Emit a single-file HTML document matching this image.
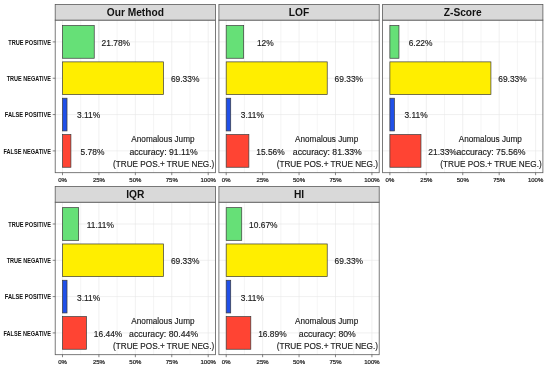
<!DOCTYPE html><html><head><meta charset="utf-8"><title>chart</title><style>html,body{margin:0;padding:0;background:#fff}svg{display:block}text{font-family:"Liberation Sans",sans-serif}</style></head><body>
<svg width="550" height="374" viewBox="0 0 550 374">
<rect width="550" height="374" fill="#fff"/>
<g>
<rect x="55.20" y="20.10" width="160.30" height="152.60" fill="#fff"/>
<line x1="80.70" x2="80.70" y1="20.10" y2="172.70" stroke="#EBEBEB" stroke-width="0.5"/>
<line x1="117.13" x2="117.13" y1="20.10" y2="172.70" stroke="#EBEBEB" stroke-width="0.5"/>
<line x1="153.57" x2="153.57" y1="20.10" y2="172.70" stroke="#EBEBEB" stroke-width="0.5"/>
<line x1="190.00" x2="190.00" y1="20.10" y2="172.70" stroke="#EBEBEB" stroke-width="0.5"/>
<line x1="62.49" x2="62.49" y1="20.10" y2="172.70" stroke="#E6E6E6" stroke-width="0.6"/>
<line x1="98.92" x2="98.92" y1="20.10" y2="172.70" stroke="#E6E6E6" stroke-width="0.6"/>
<line x1="135.35" x2="135.35" y1="20.10" y2="172.70" stroke="#E6E6E6" stroke-width="0.6"/>
<line x1="171.78" x2="171.78" y1="20.10" y2="172.70" stroke="#E6E6E6" stroke-width="0.6"/>
<line x1="208.21" x2="208.21" y1="20.10" y2="172.70" stroke="#E6E6E6" stroke-width="0.6"/>
<line x1="55.20" x2="215.50" y1="41.90" y2="41.90" stroke="#E6E6E6" stroke-width="0.6"/>
<line x1="55.20" x2="215.50" y1="78.23" y2="78.23" stroke="#E6E6E6" stroke-width="0.6"/>
<line x1="55.20" x2="215.50" y1="114.57" y2="114.57" stroke="#E6E6E6" stroke-width="0.6"/>
<line x1="55.20" x2="215.50" y1="150.90" y2="150.90" stroke="#E6E6E6" stroke-width="0.6"/>
<rect x="62.49" y="25.55" width="31.74" height="32.70" fill="#66E077" stroke="#3a3a3a" stroke-width="0.7"/>
<text transform="translate(115.83 45.80) scale(0.944 1)" font-size="8.9" text-anchor="middle" fill="#1a1a1a" stroke="#1a1a1a" stroke-width="0.15">21.78%</text>
<rect x="62.49" y="61.88" width="101.03" height="32.70" fill="#FFEE00" stroke="#3a3a3a" stroke-width="0.7"/>
<text transform="translate(185.12 82.13) scale(0.944 1)" font-size="8.9" text-anchor="middle" fill="#1a1a1a" stroke="#1a1a1a" stroke-width="0.15">69.33%</text>
<rect x="62.49" y="98.22" width="4.53" height="32.70" fill="#2050E8" stroke="#3a3a3a" stroke-width="0.7"/>
<text transform="translate(88.62 118.47) scale(0.944 1)" font-size="8.9" text-anchor="middle" fill="#1a1a1a" stroke="#1a1a1a" stroke-width="0.15">3.11%</text>
<rect x="62.49" y="134.55" width="8.42" height="32.70" fill="#FF4433" stroke="#3a3a3a" stroke-width="0.7"/>
<text transform="translate(92.51 154.80) scale(0.944 1)" font-size="8.9" text-anchor="middle" fill="#1a1a1a" stroke="#1a1a1a" stroke-width="0.15">5.78%</text>
<text transform="translate(162.92 141.90) scale(0.930 1)" font-size="8.8" text-anchor="middle" fill="#1a1a1a" stroke="#1a1a1a" stroke-width="0.15">Anomalous Jump</text>
<text transform="translate(163.62 154.55) scale(0.988 1)" font-size="8.8" text-anchor="middle" fill="#1a1a1a" stroke="#1a1a1a" stroke-width="0.15">accuracy: 91.11%</text>
<text transform="translate(163.62 167.20) scale(0.934 1)" font-size="8.8" text-anchor="middle" fill="#1a1a1a" stroke="#1a1a1a" stroke-width="0.15">(TRUE POS.+ TRUE NEG.)</text>
<rect x="55.20" y="20.10" width="160.30" height="152.60" fill="none" stroke="#5a5a5a" stroke-width="0.8"/>
<rect x="55.20" y="4.40" width="160.30" height="15.70" fill="#D9D9D9" stroke="#5a5a5a" stroke-width="0.8"/>
<text x="135.35" y="16.30" font-size="10.2" font-weight="bold" text-anchor="middle" fill="#111">Our Method</text>
<line x1="62.49" x2="62.49" y1="172.70" y2="175.20" stroke="#333" stroke-width="0.6"/>
<text x="62.49" y="181.60" font-size="6" text-anchor="middle" fill="#222" stroke="#222" stroke-width="0.22">0%</text>
<line x1="98.92" x2="98.92" y1="172.70" y2="175.20" stroke="#333" stroke-width="0.6"/>
<text x="98.92" y="181.60" font-size="6" text-anchor="middle" fill="#222" stroke="#222" stroke-width="0.22">25%</text>
<line x1="135.35" x2="135.35" y1="172.70" y2="175.20" stroke="#333" stroke-width="0.6"/>
<text x="135.35" y="181.60" font-size="6" text-anchor="middle" fill="#222" stroke="#222" stroke-width="0.22">50%</text>
<line x1="171.78" x2="171.78" y1="172.70" y2="175.20" stroke="#333" stroke-width="0.6"/>
<text x="171.78" y="181.60" font-size="6" text-anchor="middle" fill="#222" stroke="#222" stroke-width="0.22">75%</text>
<line x1="208.21" x2="208.21" y1="172.70" y2="175.20" stroke="#333" stroke-width="0.6"/>
<text x="208.21" y="181.60" font-size="6" text-anchor="middle" fill="#222" stroke="#222" stroke-width="0.22">100%</text>
<line x1="52.70" x2="55.20" y1="41.90" y2="41.90" stroke="#333" stroke-width="0.6"/>
<text x="8.30" y="44.50" font-size="6.5" font-weight="bold" textLength="42.7" lengthAdjust="spacingAndGlyphs" fill="#111">TRUE POSITIVE</text>
<line x1="52.70" x2="55.20" y1="78.23" y2="78.23" stroke="#333" stroke-width="0.6"/>
<text x="6.70" y="80.83" font-size="6.5" font-weight="bold" textLength="44.3" lengthAdjust="spacingAndGlyphs" fill="#111">TRUE NEGATIVE</text>
<line x1="52.70" x2="55.20" y1="114.57" y2="114.57" stroke="#333" stroke-width="0.6"/>
<text x="4.80" y="117.17" font-size="6.5" font-weight="bold" textLength="46.2" lengthAdjust="spacingAndGlyphs" fill="#111">FALSE POSITIVE</text>
<line x1="52.70" x2="55.20" y1="150.90" y2="150.90" stroke="#333" stroke-width="0.6"/>
<text x="3.50" y="153.50" font-size="6.5" font-weight="bold" textLength="47.5" lengthAdjust="spacingAndGlyphs" fill="#111">FALSE NEGATIVE</text>
</g>
<g>
<rect x="218.90" y="20.10" width="160.30" height="152.60" fill="#fff"/>
<line x1="244.40" x2="244.40" y1="20.10" y2="172.70" stroke="#EBEBEB" stroke-width="0.5"/>
<line x1="280.83" x2="280.83" y1="20.10" y2="172.70" stroke="#EBEBEB" stroke-width="0.5"/>
<line x1="317.27" x2="317.27" y1="20.10" y2="172.70" stroke="#EBEBEB" stroke-width="0.5"/>
<line x1="353.70" x2="353.70" y1="20.10" y2="172.70" stroke="#EBEBEB" stroke-width="0.5"/>
<line x1="226.19" x2="226.19" y1="20.10" y2="172.70" stroke="#E6E6E6" stroke-width="0.6"/>
<line x1="262.62" x2="262.62" y1="20.10" y2="172.70" stroke="#E6E6E6" stroke-width="0.6"/>
<line x1="299.05" x2="299.05" y1="20.10" y2="172.70" stroke="#E6E6E6" stroke-width="0.6"/>
<line x1="335.48" x2="335.48" y1="20.10" y2="172.70" stroke="#E6E6E6" stroke-width="0.6"/>
<line x1="371.91" x2="371.91" y1="20.10" y2="172.70" stroke="#E6E6E6" stroke-width="0.6"/>
<line x1="218.90" x2="379.20" y1="41.90" y2="41.90" stroke="#E6E6E6" stroke-width="0.6"/>
<line x1="218.90" x2="379.20" y1="78.23" y2="78.23" stroke="#E6E6E6" stroke-width="0.6"/>
<line x1="218.90" x2="379.20" y1="114.57" y2="114.57" stroke="#E6E6E6" stroke-width="0.6"/>
<line x1="218.90" x2="379.20" y1="150.90" y2="150.90" stroke="#E6E6E6" stroke-width="0.6"/>
<rect x="226.19" y="25.55" width="17.49" height="32.70" fill="#66E077" stroke="#3a3a3a" stroke-width="0.7"/>
<text transform="translate(265.27 45.80) scale(0.944 1)" font-size="8.9" text-anchor="middle" fill="#1a1a1a" stroke="#1a1a1a" stroke-width="0.15">12%</text>
<rect x="226.19" y="61.88" width="101.03" height="32.70" fill="#FFEE00" stroke="#3a3a3a" stroke-width="0.7"/>
<text transform="translate(348.82 82.13) scale(0.944 1)" font-size="8.9" text-anchor="middle" fill="#1a1a1a" stroke="#1a1a1a" stroke-width="0.15">69.33%</text>
<rect x="226.19" y="98.22" width="4.53" height="32.70" fill="#2050E8" stroke="#3a3a3a" stroke-width="0.7"/>
<text transform="translate(252.32 118.47) scale(0.944 1)" font-size="8.9" text-anchor="middle" fill="#1a1a1a" stroke="#1a1a1a" stroke-width="0.15">3.11%</text>
<rect x="226.19" y="134.55" width="22.68" height="32.70" fill="#FF4433" stroke="#3a3a3a" stroke-width="0.7"/>
<text transform="translate(270.46 154.80) scale(0.944 1)" font-size="8.9" text-anchor="middle" fill="#1a1a1a" stroke="#1a1a1a" stroke-width="0.15">15.56%</text>
<text transform="translate(326.62 141.90) scale(0.930 1)" font-size="8.8" text-anchor="middle" fill="#1a1a1a" stroke="#1a1a1a" stroke-width="0.15">Anomalous Jump</text>
<text transform="translate(327.32 154.55) scale(0.988 1)" font-size="8.8" text-anchor="middle" fill="#1a1a1a" stroke="#1a1a1a" stroke-width="0.15">accuracy: 81.33%</text>
<text transform="translate(327.32 167.20) scale(0.934 1)" font-size="8.8" text-anchor="middle" fill="#1a1a1a" stroke="#1a1a1a" stroke-width="0.15">(TRUE POS.+ TRUE NEG.)</text>
<rect x="218.90" y="20.10" width="160.30" height="152.60" fill="none" stroke="#5a5a5a" stroke-width="0.8"/>
<rect x="218.90" y="4.40" width="160.30" height="15.70" fill="#D9D9D9" stroke="#5a5a5a" stroke-width="0.8"/>
<text x="299.05" y="16.30" font-size="10.2" font-weight="bold" text-anchor="middle" fill="#111">LOF</text>
<line x1="226.19" x2="226.19" y1="172.70" y2="175.20" stroke="#333" stroke-width="0.6"/>
<text x="226.19" y="181.60" font-size="6" text-anchor="middle" fill="#222" stroke="#222" stroke-width="0.22">0%</text>
<line x1="262.62" x2="262.62" y1="172.70" y2="175.20" stroke="#333" stroke-width="0.6"/>
<text x="262.62" y="181.60" font-size="6" text-anchor="middle" fill="#222" stroke="#222" stroke-width="0.22">25%</text>
<line x1="299.05" x2="299.05" y1="172.70" y2="175.20" stroke="#333" stroke-width="0.6"/>
<text x="299.05" y="181.60" font-size="6" text-anchor="middle" fill="#222" stroke="#222" stroke-width="0.22">50%</text>
<line x1="335.48" x2="335.48" y1="172.70" y2="175.20" stroke="#333" stroke-width="0.6"/>
<text x="335.48" y="181.60" font-size="6" text-anchor="middle" fill="#222" stroke="#222" stroke-width="0.22">75%</text>
<line x1="371.91" x2="371.91" y1="172.70" y2="175.20" stroke="#333" stroke-width="0.6"/>
<text x="371.91" y="181.60" font-size="6" text-anchor="middle" fill="#222" stroke="#222" stroke-width="0.22">100%</text>
</g>
<g>
<rect x="382.60" y="20.10" width="160.30" height="152.60" fill="#fff"/>
<line x1="408.10" x2="408.10" y1="20.10" y2="172.70" stroke="#EBEBEB" stroke-width="0.5"/>
<line x1="444.53" x2="444.53" y1="20.10" y2="172.70" stroke="#EBEBEB" stroke-width="0.5"/>
<line x1="480.97" x2="480.97" y1="20.10" y2="172.70" stroke="#EBEBEB" stroke-width="0.5"/>
<line x1="517.40" x2="517.40" y1="20.10" y2="172.70" stroke="#EBEBEB" stroke-width="0.5"/>
<line x1="389.89" x2="389.89" y1="20.10" y2="172.70" stroke="#E6E6E6" stroke-width="0.6"/>
<line x1="426.32" x2="426.32" y1="20.10" y2="172.70" stroke="#E6E6E6" stroke-width="0.6"/>
<line x1="462.75" x2="462.75" y1="20.10" y2="172.70" stroke="#E6E6E6" stroke-width="0.6"/>
<line x1="499.18" x2="499.18" y1="20.10" y2="172.70" stroke="#E6E6E6" stroke-width="0.6"/>
<line x1="535.61" x2="535.61" y1="20.10" y2="172.70" stroke="#E6E6E6" stroke-width="0.6"/>
<line x1="382.60" x2="542.90" y1="41.90" y2="41.90" stroke="#E6E6E6" stroke-width="0.6"/>
<line x1="382.60" x2="542.90" y1="78.23" y2="78.23" stroke="#E6E6E6" stroke-width="0.6"/>
<line x1="382.60" x2="542.90" y1="114.57" y2="114.57" stroke="#E6E6E6" stroke-width="0.6"/>
<line x1="382.60" x2="542.90" y1="150.90" y2="150.90" stroke="#E6E6E6" stroke-width="0.6"/>
<rect x="389.89" y="25.55" width="9.06" height="32.70" fill="#66E077" stroke="#3a3a3a" stroke-width="0.7"/>
<text transform="translate(420.55 45.80) scale(0.944 1)" font-size="8.9" text-anchor="middle" fill="#1a1a1a" stroke="#1a1a1a" stroke-width="0.15">6.22%</text>
<rect x="389.89" y="61.88" width="101.03" height="32.70" fill="#FFEE00" stroke="#3a3a3a" stroke-width="0.7"/>
<text transform="translate(512.52 82.13) scale(0.944 1)" font-size="8.9" text-anchor="middle" fill="#1a1a1a" stroke="#1a1a1a" stroke-width="0.15">69.33%</text>
<rect x="389.89" y="98.22" width="4.53" height="32.70" fill="#2050E8" stroke="#3a3a3a" stroke-width="0.7"/>
<text transform="translate(416.02 118.47) scale(0.944 1)" font-size="8.9" text-anchor="middle" fill="#1a1a1a" stroke="#1a1a1a" stroke-width="0.15">3.11%</text>
<rect x="389.89" y="134.55" width="31.08" height="32.70" fill="#FF4433" stroke="#3a3a3a" stroke-width="0.7"/>
<text transform="translate(442.57 154.80) scale(0.944 1)" font-size="8.9" text-anchor="middle" fill="#1a1a1a" stroke="#1a1a1a" stroke-width="0.15">21.33%</text>
<text transform="translate(490.32 141.90) scale(0.930 1)" font-size="8.8" text-anchor="middle" fill="#1a1a1a" stroke="#1a1a1a" stroke-width="0.15">Anomalous Jump</text>
<text transform="translate(491.02 154.55) scale(0.988 1)" font-size="8.8" text-anchor="middle" fill="#1a1a1a" stroke="#1a1a1a" stroke-width="0.15">accuracy: 75.56%</text>
<text transform="translate(491.02 167.20) scale(0.934 1)" font-size="8.8" text-anchor="middle" fill="#1a1a1a" stroke="#1a1a1a" stroke-width="0.15">(TRUE POS.+ TRUE NEG.)</text>
<rect x="382.60" y="20.10" width="160.30" height="152.60" fill="none" stroke="#5a5a5a" stroke-width="0.8"/>
<rect x="382.60" y="4.40" width="160.30" height="15.70" fill="#D9D9D9" stroke="#5a5a5a" stroke-width="0.8"/>
<text x="462.75" y="16.30" font-size="10.2" font-weight="bold" text-anchor="middle" fill="#111">Z-Score</text>
<line x1="389.89" x2="389.89" y1="172.70" y2="175.20" stroke="#333" stroke-width="0.6"/>
<text x="389.89" y="181.60" font-size="6" text-anchor="middle" fill="#222" stroke="#222" stroke-width="0.22">0%</text>
<line x1="426.32" x2="426.32" y1="172.70" y2="175.20" stroke="#333" stroke-width="0.6"/>
<text x="426.32" y="181.60" font-size="6" text-anchor="middle" fill="#222" stroke="#222" stroke-width="0.22">25%</text>
<line x1="462.75" x2="462.75" y1="172.70" y2="175.20" stroke="#333" stroke-width="0.6"/>
<text x="462.75" y="181.60" font-size="6" text-anchor="middle" fill="#222" stroke="#222" stroke-width="0.22">50%</text>
<line x1="499.18" x2="499.18" y1="172.70" y2="175.20" stroke="#333" stroke-width="0.6"/>
<text x="499.18" y="181.60" font-size="6" text-anchor="middle" fill="#222" stroke="#222" stroke-width="0.22">75%</text>
<line x1="535.61" x2="535.61" y1="172.70" y2="175.20" stroke="#333" stroke-width="0.6"/>
<text x="535.61" y="181.60" font-size="6" text-anchor="middle" fill="#222" stroke="#222" stroke-width="0.22">100%</text>
</g>
<g>
<rect x="55.20" y="202.20" width="160.30" height="152.50" fill="#fff"/>
<line x1="80.70" x2="80.70" y1="202.20" y2="354.70" stroke="#EBEBEB" stroke-width="0.5"/>
<line x1="117.13" x2="117.13" y1="202.20" y2="354.70" stroke="#EBEBEB" stroke-width="0.5"/>
<line x1="153.57" x2="153.57" y1="202.20" y2="354.70" stroke="#EBEBEB" stroke-width="0.5"/>
<line x1="190.00" x2="190.00" y1="202.20" y2="354.70" stroke="#EBEBEB" stroke-width="0.5"/>
<line x1="62.49" x2="62.49" y1="202.20" y2="354.70" stroke="#E6E6E6" stroke-width="0.6"/>
<line x1="98.92" x2="98.92" y1="202.20" y2="354.70" stroke="#E6E6E6" stroke-width="0.6"/>
<line x1="135.35" x2="135.35" y1="202.20" y2="354.70" stroke="#E6E6E6" stroke-width="0.6"/>
<line x1="171.78" x2="171.78" y1="202.20" y2="354.70" stroke="#E6E6E6" stroke-width="0.6"/>
<line x1="208.21" x2="208.21" y1="202.20" y2="354.70" stroke="#E6E6E6" stroke-width="0.6"/>
<line x1="55.20" x2="215.50" y1="223.99" y2="223.99" stroke="#E6E6E6" stroke-width="0.6"/>
<line x1="55.20" x2="215.50" y1="260.30" y2="260.30" stroke="#E6E6E6" stroke-width="0.6"/>
<line x1="55.20" x2="215.50" y1="296.60" y2="296.60" stroke="#E6E6E6" stroke-width="0.6"/>
<line x1="55.20" x2="215.50" y1="332.91" y2="332.91" stroke="#E6E6E6" stroke-width="0.6"/>
<rect x="62.49" y="207.65" width="16.19" height="32.68" fill="#66E077" stroke="#3a3a3a" stroke-width="0.7"/>
<text transform="translate(100.28 227.89) scale(0.944 1)" font-size="8.9" text-anchor="middle" fill="#1a1a1a" stroke="#1a1a1a" stroke-width="0.15">11.11%</text>
<rect x="62.49" y="243.96" width="101.03" height="32.68" fill="#FFEE00" stroke="#3a3a3a" stroke-width="0.7"/>
<text transform="translate(185.12 264.20) scale(0.944 1)" font-size="8.9" text-anchor="middle" fill="#1a1a1a" stroke="#1a1a1a" stroke-width="0.15">69.33%</text>
<rect x="62.49" y="280.27" width="4.53" height="32.68" fill="#2050E8" stroke="#3a3a3a" stroke-width="0.7"/>
<text transform="translate(88.62 300.50) scale(0.944 1)" font-size="8.9" text-anchor="middle" fill="#1a1a1a" stroke="#1a1a1a" stroke-width="0.15">3.11%</text>
<rect x="62.49" y="316.57" width="23.96" height="32.68" fill="#FF4433" stroke="#3a3a3a" stroke-width="0.7"/>
<text transform="translate(108.04 336.81) scale(0.944 1)" font-size="8.9" text-anchor="middle" fill="#1a1a1a" stroke="#1a1a1a" stroke-width="0.15">16.44%</text>
<text transform="translate(162.92 324.00) scale(0.930 1)" font-size="8.8" text-anchor="middle" fill="#1a1a1a" stroke="#1a1a1a" stroke-width="0.15">Anomalous Jump</text>
<text transform="translate(163.62 336.65) scale(0.988 1)" font-size="8.8" text-anchor="middle" fill="#1a1a1a" stroke="#1a1a1a" stroke-width="0.15">accuracy: 80.44%</text>
<text transform="translate(163.62 349.30) scale(0.934 1)" font-size="8.8" text-anchor="middle" fill="#1a1a1a" stroke="#1a1a1a" stroke-width="0.15">(TRUE POS.+ TRUE NEG.)</text>
<rect x="55.20" y="202.20" width="160.30" height="152.50" fill="none" stroke="#5a5a5a" stroke-width="0.8"/>
<rect x="55.20" y="186.40" width="160.30" height="15.80" fill="#D9D9D9" stroke="#5a5a5a" stroke-width="0.8"/>
<text x="135.35" y="198.30" font-size="10.2" font-weight="bold" text-anchor="middle" fill="#111">IQR</text>
<line x1="62.49" x2="62.49" y1="354.70" y2="357.20" stroke="#333" stroke-width="0.6"/>
<text x="62.49" y="363.60" font-size="6" text-anchor="middle" fill="#222" stroke="#222" stroke-width="0.22">0%</text>
<line x1="98.92" x2="98.92" y1="354.70" y2="357.20" stroke="#333" stroke-width="0.6"/>
<text x="98.92" y="363.60" font-size="6" text-anchor="middle" fill="#222" stroke="#222" stroke-width="0.22">25%</text>
<line x1="135.35" x2="135.35" y1="354.70" y2="357.20" stroke="#333" stroke-width="0.6"/>
<text x="135.35" y="363.60" font-size="6" text-anchor="middle" fill="#222" stroke="#222" stroke-width="0.22">50%</text>
<line x1="171.78" x2="171.78" y1="354.70" y2="357.20" stroke="#333" stroke-width="0.6"/>
<text x="171.78" y="363.60" font-size="6" text-anchor="middle" fill="#222" stroke="#222" stroke-width="0.22">75%</text>
<line x1="208.21" x2="208.21" y1="354.70" y2="357.20" stroke="#333" stroke-width="0.6"/>
<text x="208.21" y="363.60" font-size="6" text-anchor="middle" fill="#222" stroke="#222" stroke-width="0.22">100%</text>
<line x1="52.70" x2="55.20" y1="223.99" y2="223.99" stroke="#333" stroke-width="0.6"/>
<text x="8.30" y="226.59" font-size="6.5" font-weight="bold" textLength="42.7" lengthAdjust="spacingAndGlyphs" fill="#111">TRUE POSITIVE</text>
<line x1="52.70" x2="55.20" y1="260.30" y2="260.30" stroke="#333" stroke-width="0.6"/>
<text x="6.70" y="262.90" font-size="6.5" font-weight="bold" textLength="44.3" lengthAdjust="spacingAndGlyphs" fill="#111">TRUE NEGATIVE</text>
<line x1="52.70" x2="55.20" y1="296.60" y2="296.60" stroke="#333" stroke-width="0.6"/>
<text x="4.80" y="299.20" font-size="6.5" font-weight="bold" textLength="46.2" lengthAdjust="spacingAndGlyphs" fill="#111">FALSE POSITIVE</text>
<line x1="52.70" x2="55.20" y1="332.91" y2="332.91" stroke="#333" stroke-width="0.6"/>
<text x="3.50" y="335.51" font-size="6.5" font-weight="bold" textLength="47.5" lengthAdjust="spacingAndGlyphs" fill="#111">FALSE NEGATIVE</text>
</g>
<g>
<rect x="218.90" y="202.20" width="160.30" height="152.50" fill="#fff"/>
<line x1="244.40" x2="244.40" y1="202.20" y2="354.70" stroke="#EBEBEB" stroke-width="0.5"/>
<line x1="280.83" x2="280.83" y1="202.20" y2="354.70" stroke="#EBEBEB" stroke-width="0.5"/>
<line x1="317.27" x2="317.27" y1="202.20" y2="354.70" stroke="#EBEBEB" stroke-width="0.5"/>
<line x1="353.70" x2="353.70" y1="202.20" y2="354.70" stroke="#EBEBEB" stroke-width="0.5"/>
<line x1="226.19" x2="226.19" y1="202.20" y2="354.70" stroke="#E6E6E6" stroke-width="0.6"/>
<line x1="262.62" x2="262.62" y1="202.20" y2="354.70" stroke="#E6E6E6" stroke-width="0.6"/>
<line x1="299.05" x2="299.05" y1="202.20" y2="354.70" stroke="#E6E6E6" stroke-width="0.6"/>
<line x1="335.48" x2="335.48" y1="202.20" y2="354.70" stroke="#E6E6E6" stroke-width="0.6"/>
<line x1="371.91" x2="371.91" y1="202.20" y2="354.70" stroke="#E6E6E6" stroke-width="0.6"/>
<line x1="218.90" x2="379.20" y1="223.99" y2="223.99" stroke="#E6E6E6" stroke-width="0.6"/>
<line x1="218.90" x2="379.20" y1="260.30" y2="260.30" stroke="#E6E6E6" stroke-width="0.6"/>
<line x1="218.90" x2="379.20" y1="296.60" y2="296.60" stroke="#E6E6E6" stroke-width="0.6"/>
<line x1="218.90" x2="379.20" y1="332.91" y2="332.91" stroke="#E6E6E6" stroke-width="0.6"/>
<rect x="226.19" y="207.65" width="15.55" height="32.68" fill="#66E077" stroke="#3a3a3a" stroke-width="0.7"/>
<text transform="translate(263.34 227.89) scale(0.944 1)" font-size="8.9" text-anchor="middle" fill="#1a1a1a" stroke="#1a1a1a" stroke-width="0.15">10.67%</text>
<rect x="226.19" y="243.96" width="101.03" height="32.68" fill="#FFEE00" stroke="#3a3a3a" stroke-width="0.7"/>
<text transform="translate(348.82 264.20) scale(0.944 1)" font-size="8.9" text-anchor="middle" fill="#1a1a1a" stroke="#1a1a1a" stroke-width="0.15">69.33%</text>
<rect x="226.19" y="280.27" width="4.53" height="32.68" fill="#2050E8" stroke="#3a3a3a" stroke-width="0.7"/>
<text transform="translate(252.32 300.50) scale(0.944 1)" font-size="8.9" text-anchor="middle" fill="#1a1a1a" stroke="#1a1a1a" stroke-width="0.15">3.11%</text>
<rect x="226.19" y="316.57" width="24.61" height="32.68" fill="#FF4433" stroke="#3a3a3a" stroke-width="0.7"/>
<text transform="translate(272.40 336.81) scale(0.944 1)" font-size="8.9" text-anchor="middle" fill="#1a1a1a" stroke="#1a1a1a" stroke-width="0.15">16.89%</text>
<text transform="translate(326.62 324.00) scale(0.930 1)" font-size="8.8" text-anchor="middle" fill="#1a1a1a" stroke="#1a1a1a" stroke-width="0.15">Anomalous Jump</text>
<text transform="translate(327.32 336.65) scale(0.988 1)" font-size="8.8" text-anchor="middle" fill="#1a1a1a" stroke="#1a1a1a" stroke-width="0.15">accuracy: 80%</text>
<text transform="translate(327.32 349.30) scale(0.934 1)" font-size="8.8" text-anchor="middle" fill="#1a1a1a" stroke="#1a1a1a" stroke-width="0.15">(TRUE POS.+ TRUE NEG.)</text>
<rect x="218.90" y="202.20" width="160.30" height="152.50" fill="none" stroke="#5a5a5a" stroke-width="0.8"/>
<rect x="218.90" y="186.40" width="160.30" height="15.80" fill="#D9D9D9" stroke="#5a5a5a" stroke-width="0.8"/>
<text x="299.05" y="198.30" font-size="10.2" font-weight="bold" text-anchor="middle" fill="#111">HI</text>
<line x1="226.19" x2="226.19" y1="354.70" y2="357.20" stroke="#333" stroke-width="0.6"/>
<text x="226.19" y="363.60" font-size="6" text-anchor="middle" fill="#222" stroke="#222" stroke-width="0.22">0%</text>
<line x1="262.62" x2="262.62" y1="354.70" y2="357.20" stroke="#333" stroke-width="0.6"/>
<text x="262.62" y="363.60" font-size="6" text-anchor="middle" fill="#222" stroke="#222" stroke-width="0.22">25%</text>
<line x1="299.05" x2="299.05" y1="354.70" y2="357.20" stroke="#333" stroke-width="0.6"/>
<text x="299.05" y="363.60" font-size="6" text-anchor="middle" fill="#222" stroke="#222" stroke-width="0.22">50%</text>
<line x1="335.48" x2="335.48" y1="354.70" y2="357.20" stroke="#333" stroke-width="0.6"/>
<text x="335.48" y="363.60" font-size="6" text-anchor="middle" fill="#222" stroke="#222" stroke-width="0.22">75%</text>
<line x1="371.91" x2="371.91" y1="354.70" y2="357.20" stroke="#333" stroke-width="0.6"/>
<text x="371.91" y="363.60" font-size="6" text-anchor="middle" fill="#222" stroke="#222" stroke-width="0.22">100%</text>
</g>
</svg></body></html>
